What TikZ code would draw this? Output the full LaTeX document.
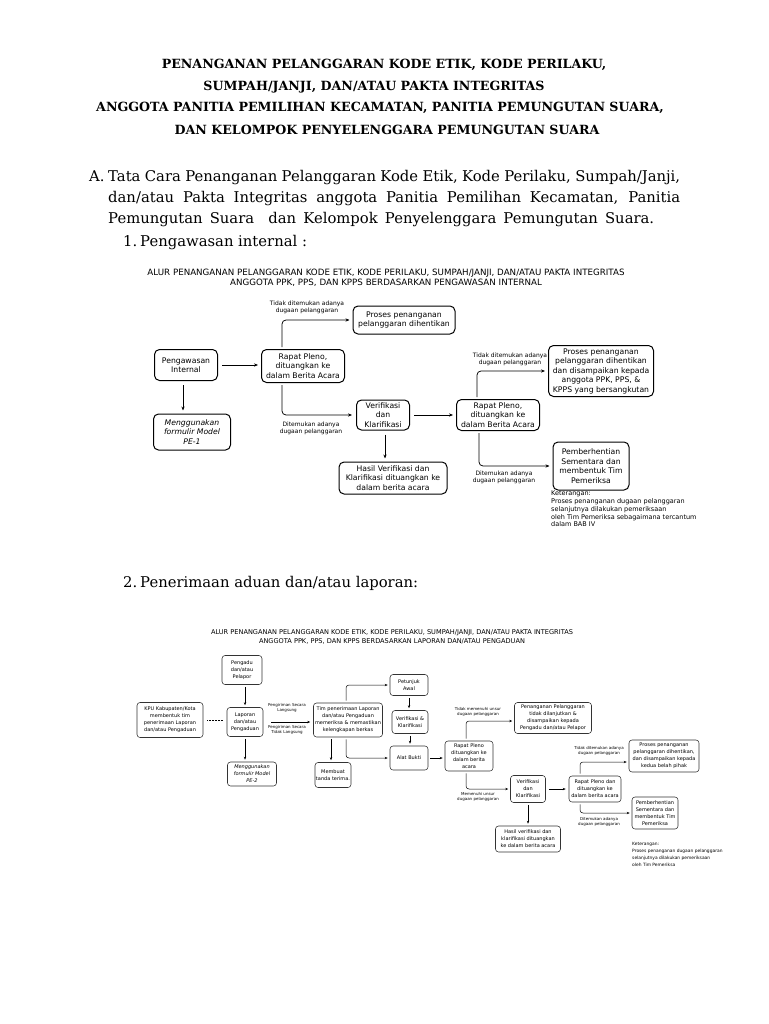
\documentclass[tikz,border=0pt]{standalone}
\usepackage{fontspec}
\setmainfont{DejaVu Serif}
\newfontfamily\dsans{DejaVu Sans}
\usetikzlibrary{arrows.meta}
\begin{document}
\begin{tikzpicture}[x=1pt,y=-1pt,
  tbox/.style={draw, rounded corners=5pt, line width=1pt, align=center, inner sep=1pt, font=\dsans\fontsize{7.7}{9.5}\selectfont},
  sbox/.style={draw=black!80, rounded corners=3pt, line width=0.55pt, align=center, inner sep=0.5pt, font=\dsans\fontsize{5}{7}\selectfont},
  sz/.style 2 args={minimum width=#1pt, minimum height=#2pt},
  arr/.style={-{Stealth[length=4pt,width=3.2pt]}, line width=0.75pt},
  sarr/.style={-{Stealth[length=3pt,width=2.4pt]}, line width=0.5pt},
  lab/.style={font=\dsans\fontsize{6}{7}\selectfont, align=center, inner sep=0pt},
  slab/.style={font=\dsans\fontsize{4}{5}\selectfont, align=center, inner sep=0pt},
  body/.style={font=\fontsize{14.8}{17}\selectfont, anchor=base west, inner sep=0pt},
  ttl/.style={font=\bfseries\fontsize{12.65}{14}\selectfont, inner sep=0pt},
]
\useasboundingbox[fill=white] (0,0) rectangle (768,1024);

% ---------- titles ----------
\node[ttl] (t1) at (384,65) {PENANGANAN PELANGGARAN KODE ETIK, KODE PERILAKU,};
\node[ttl] (t2) at (374,87) {SUMPAH/JANJI, DAN/ATAU PAKTA INTEGRITAS};
\node[ttl] (t3) at (380,108) {ANGGOTA PANITIA PEMILIHAN KECAMATAN, PANITIA PEMUNGUTAN SUARA,};
\node[ttl] (t4) at (387,130) {DAN KELOMPOK PENYELENGGARA PEMUNGUTAN SUARA};

% ---------- body ----------
\node[body] (a) at (89,182) {A.};
\node[body] (a1) at (108,182) {\makebox[572pt][s]{Tata Cara Penanganan Pelanggaran Kode Etik, Kode Perilaku, Sumpah/Janji,}};
\node[body] (a2) at (108,203) {\makebox[572pt][s]{dan/atau Pakta Integritas anggota Panitia Pemilihan Kecamatan, Panitia}};
\node[body] (a3) at (108,224) {\makebox[546pt][s]{Pemungutan Suara\ \ dan Kelompok Penyelenggara Pemungutan Suara.}};
\node[body] (n1) at (123,247) {1.};
\node[body] (n1t) at (140,247) {Pengawasan internal :};
\node[body] (n2) at (123,587) {2.};
\node[body] (n2t) at (140,587) {Penerimaan aduan dan/atau laporan:};

% ---------- diagram 1 ----------
\node[font=\dsans\fontsize{8.7}{10.5}\selectfont, align=center, inner sep=0pt] (d1t) at (386,278)
  {ALUR PENANGANAN PELANGGARAN KODE ETIK, KODE PERILAKU, SUMPAH/JANJI, DAN/ATAU PAKTA INTEGRITAS\\ANGGOTA PPK, PPS, DAN KPPS BERDASARKAN PENGAWASAN INTERNAL};

\node[tbox, sz={63}{31}] (pi) at (186,365) {Pengawasan\\Internal};
\node[tbox, sz={77}{36}, font=\dsans\itshape\fontsize{7.7}{9.5}\selectfont] (pe1) at (192,432) {Menggunakan\\formulir Model\\PE-1};
\node[tbox, sz={83}{33}] (rp1) at (303,366) {Rapat Pleno,\\dituangkan ke\\dalam Berita Acara};
\node[tbox, sz={102}{28}] (ph1) at (404,320) {Proses penanganan\\pelanggaran dihentikan};
\node[tbox, sz={53}{30}] (vk1) at (383,415) {Verifikasi\\dan\\Klarifikasi};
\node[tbox, sz={108}{32}] (hv1) at (393,478) {Hasil Verifikasi dan\\Klarifikasi dituangkan ke\\dalam berita acara};
\node[tbox, sz={83}{31}] (rp2) at (498,415) {Rapat Pleno,\\dituangkan ke\\dalam Berita Acara};
\node[tbox, sz={105}{51}] (ph2) at (601,371) {Proses penanganan\\pelanggaran dihentikan\\dan disampaikan kepada\\anggota PPK, PPS, \&\\KPPS yang bersangkutan};
\node[tbox, sz={76}{48}] (pb1) at (591,466) {Pemberhentian\\Sementara dan\\membentuk Tim\\Pemeriksa};

\draw[arr, shorten <=4pt, shorten >=3pt] (pi.east) -- (pi.east -| rp1.west);
\draw[arr, shorten <=4pt, shorten >=3pt] ([xshift=-3pt]pi.south) -- ([xshift=-3pt]pi.south |- pe1.north);
\draw[arr, rounded corners=4pt, shorten <=2pt, shorten >=3pt] ([xshift=-21pt]rp1.north) |- (ph1.west);
\draw[arr, rounded corners=4pt, shorten <=2pt, shorten >=4pt] ([xshift=-21pt]rp1.south) |- (vk1.west);
\draw[arr, shorten <=4pt, shorten >=3pt] ([xshift=2pt]vk1.south) -- ([xshift=2pt]vk1.south |- hv1.north);
\draw[arr, shorten <=4pt, shorten >=3pt] (vk1.east) -- (vk1.east -| rp2.west);
\draw[arr, rounded corners=4pt, shorten <=2pt, shorten >=3pt] ([xshift=-21pt]rp2.north) |- (ph2.west);
\draw[arr, rounded corners=4pt, shorten <=2pt, shorten >=3pt] ([xshift=-19pt]rp2.south) |- (pb1.west);

\node[lab] (l1) at (307,307) {Tidak ditemukan adanya\\dugaan pelanggaran};
\node[lab] (l2) at (311,428) {Ditemukan adanya\\dugaan pelanggaran};
\node[lab] (l3) at (510,359) {Tidak ditemukan adanya\\dugaan pelanggaran};
\node[lab] (l4) at (504,477) {Ditemukan adanya\\dugaan pelanggaran};
\node[font=\dsans\fontsize{6.5}{7.7}\selectfont, align=left, anchor=north west, inner sep=0pt] (k1) at (551,491)
  {Keterangan:\\Proses penanganan dugaan pelanggaran\\selanjutnya dilakukan pemeriksaan\\oleh Tim Pemeriksa sebagaimana tercantum\\dalam BAB IV};

% ---------- diagram 2 ----------
\node[font=\dsans\fontsize{6.6}{9}\selectfont, align=center, inner sep=0pt] (d2t) at (392,636.5)
  {ALUR PENANGANAN PELANGGARAN KODE ETIK, KODE PERILAKU, SUMPAH/JANJI, DAN/ATAU PAKTA INTEGRITAS\\ANGGOTA PPK, PPS, DAN KPPS BERDASARKAN LAPORAN DAN/ATAU PENGADUAN};

\node[sbox, sz={40}{29}] (pg) at (242,670) {Pengadu\\dan/atau\\Pelapor};
\node[sbox, sz={66}{35}] (kpu) at (170,720) {KPU Kabupaten/Kota\\membentuk tim\\penerimaan Laporan\\dan/atau Pengaduan};
\node[sbox, sz={36}{29}] (lp) at (245,722) {Laporan\\dan/atau\\Pengaduan};
\node[sbox, sz={49}{24}, font=\dsans\itshape\fontsize{5}{7}\selectfont] (pe2) at (252,774) {Menggunakan\\formulir Model\\PE-2};
\node[sbox, sz={69}{34}] (tim) at (348,720) {Tim penerimaan Laporan\\dan/atau Pengaduan\\memeriksa \& memastikan\\kelengkapan berkas};
\node[sbox, sz={36}{25}] (tt) at (333,775) {Membuat\\tanda terima.};
\node[sbox, sz={38}{21}] (pa) at (409,685) {Petunjuk\\Awal};
\node[sbox, sz={36}{23}] (vk2) at (410,722) {Verifikasi \&\\Klarifikasi};
\node[sbox, sz={38}{24}] (ab) at (409,758) {Alat Bukti};
\node[sbox, sz={48}{30}] (rp3) at (469,756) {Rapat Pleno\\dituangkan ke\\dalam berita\\acara};
\node[sbox, sz={77}{31}] (pp) at (553,718) {Penanganan Pelanggaran\\tidak dilanjutkan \&\\disampaikan kepada\\Pengadu dan/atau Pelapor};
\node[sbox, sz={35}{27}] (vk3) at (528,789) {Verifikasi\\dan\\Klarifikasi};
\node[sbox, sz={65}{26}] (hv2) at (528,839) {Hasil verifikasi dan\\klarifikasi dituangkan\\ke dalam berita acara};
\node[sbox, sz={52}{26}] (rp4) at (595,789) {Rapat Pleno dan\\dituangkan ke\\dalam berita acara};
\node[sbox, sz={70}{32}] (ph3) at (664,756) {Proses penanganan\\pelanggaran dihentikan,\\dan disampaikan kepada\\kedua belah pihak};
\node[sbox, sz={46}{32}] (pb2) at (655,813) {Pemberhentian\\Sementara dan\\membentuk Tim\\Pemeriksa};

\draw[sarr, shorten <=2pt, shorten >=2pt] (lp.north |- pg.south) -- (lp.north);
\draw[densely dotted, line width=0.5pt, shorten <=4pt, shorten >=4pt] (kpu.east) -- (kpu.east -| lp.west);
\draw[sarr, shorten <=2pt, shorten >=2pt] (lp.south) -- (lp.south |- pe2.north);
\draw[sarr, shorten <=8pt, shorten >=3pt] (lp.east) -- (lp.east -| tim.west);
\draw[sarr, rounded corners=3pt, shorten <=2pt, shorten >=2pt] ([xshift=-2pt]tim.north) |- (pa.west);
\draw[sarr, rounded corners=3pt, shorten <=2pt, shorten >=2pt] ([xshift=-2pt]tim.south) |- (ab.west);
\draw[sarr, shorten <=2pt, shorten >=2pt] ([xshift=-17pt]tim.south) -- ([xshift=-17pt]tim.south |- tt.north);
\draw[sarr, shorten <=2pt, shorten >=2pt] (pa.south) -- (pa.south |- vk2.north);
\draw[sarr, shorten <=2pt, shorten >=2pt] (vk2.south) -- (vk2.south |- ab.north);
\draw[sarr, shorten <=2pt, shorten >=2pt] (ab.east) -- (ab.east -| rp3.west);
\draw[sarr, rounded corners=3pt, shorten <=2pt, shorten >=2pt] ([xshift=-3pt]rp3.north) |- ([yshift=-3pt]pp.west);
\draw[sarr, rounded corners=3pt, shorten <=2pt, shorten >=2pt] ([xshift=-3pt]rp3.south) |- (vk3.west);
\draw[sarr, shorten <=3pt, shorten >=3pt] (vk3.east) -- (vk3.east -| rp4.west);
\draw[sarr, shorten <=2pt, shorten >=2pt] (vk3.south) -- (vk3.south |- hv2.north);
\draw[sarr, rounded corners=3pt, shorten <=2pt, shorten >=2pt] ([xshift=-15pt]rp4.north) |- ([yshift=-6pt]ph3.west);
\draw[sarr, rounded corners=3pt, shorten <=2pt, shorten >=2pt] ([xshift=-15pt]rp4.south) |- (pb2.west);

\node[slab] (s1) at (287,708) {Pengiriman Secara\\Langsung};
\node[slab] (s2) at (287,730) {Pengiriman Secara\\Tidak Langsung};
\node[slab] (s3) at (478,712) {Tidak memenuhi unsur\\dugaan pelanggaran};
\node[slab] (s4) at (478,797) {Memenuhi unsur\\dugaan pelanggaran};
\node[slab] (s5) at (599,751) {Tidak ditemukan adanya\\dugaan pelanggaran};
\node[slab] (s6) at (599,822) {Ditemukan adanya\\dugaan pelanggaran};
\node[font=\dsans\fontsize{4.4}{7}\selectfont, align=left, anchor=north west, inner sep=0pt] (k2) at (632,842)
  {Keterangan:\\Proses penanganan dugaan pelanggaran\\selanjutnya dilakukan pemeriksaan\\oleh Tim Pemeriksa};
\end{tikzpicture}
\end{document}
